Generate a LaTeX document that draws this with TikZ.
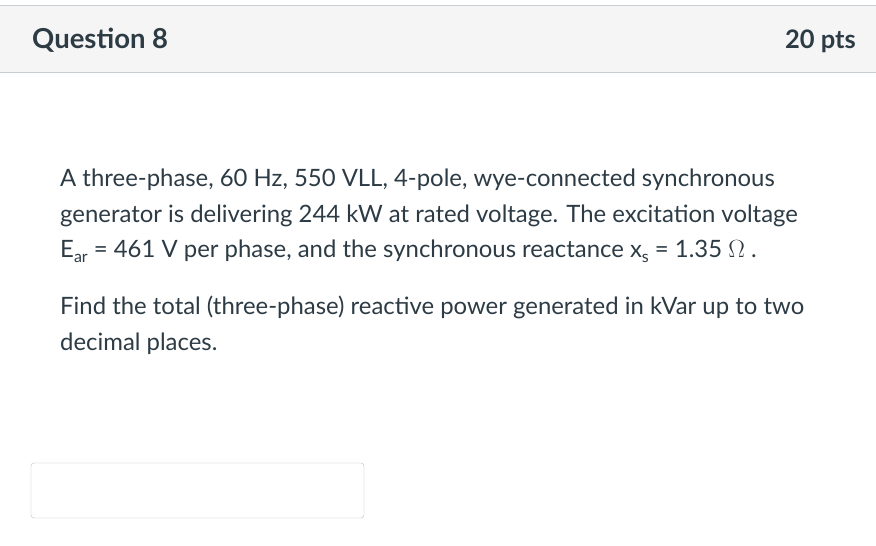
\documentclass[tikz,border=0pt]{standalone}
\usepackage{fontspec}
\setmainfont{Lato}
\definecolor{hdr}{HTML}{F5F5F5}
\definecolor{hline}{HTML}{C7CDD1}
\definecolor{boxl}{HTML}{B8BEC2}
\definecolor{txt}{HTML}{2D3B45}
\newcommand{\sub}[1]{\raisebox{-0.35ex}{\fontsize{16}{16}\selectfont #1}}
\begin{document}
\begin{tikzpicture}[x=1pt,y=1pt,
  body/.style={anchor=base west,inner sep=0,text=txt,font=\fontsize{23.9}{28}\selectfont},
  title/.style={anchor=base west,inner sep=0,text=txt,font=\fontsize{27.5}{30}\selectfont\bfseries}]
\useasboundingbox (0,0) rectangle (876,546);
\fill[white] (0,0) rectangle (876,546);
\fill[hdr] (0,474) rectangle (876,541);
\draw[hline] (0,541) -- (876,541);
\draw[hline] (0,474) -- (876,474);
\node[title] (q) at (32,497) {Question 8};
\node[title,anchor=base east,font=\fontsize{25.5}{30}\selectfont\bfseries] (p) at (856,497) {20 pts};
\node[body] (l1) at (60,359) {A three-phase, 60 Hz, 550 VLL, 4-pole, wye-connected synchronous};
\node[body] (l2) at (60,323) {generator is delivering 244 kW at rated voltage. The excitation voltage};
\node[body] (l3) at (60,288) {E\sub{ar} = 461 V per phase, and the synchronous reactance x\sub{s} = 1.35 {\bfseries $\Omega$} .};
\node[body] (l4) at (60,231) {Find the total (three-phase) reactive power generated in kVar up to two};
\node[body] (l5) at (60,195) {decimal places.};
\draw[boxl,rounded corners=3,fill=white] (31,28) rectangle (364,83);
\end{tikzpicture}
\end{document}
